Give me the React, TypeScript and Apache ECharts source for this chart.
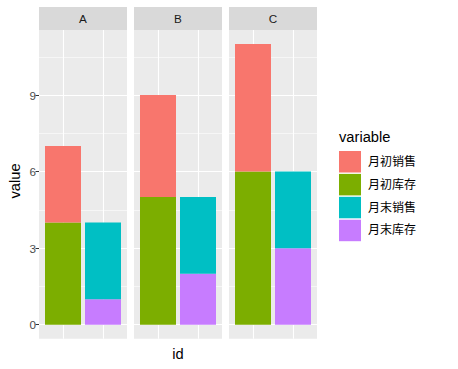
import React, { useEffect, useRef } from "react";
import * as echarts from "echarts";

const facets = ["A", "B", "C"];
const xPositions = [1, 2];
const begSales = [3, 4, 5];   // 月初销售
const begStock = [4, 5, 6];   // 月初库存
const endSales = [3, 3, 3];   // 月末销售
const endStock = [1, 2, 3];   // 月末库存
const variableNames = ["月初销售", "月初库存", "月末销售", "月末库存"];
const colors = ["#F8766D", "#7CAE00", "#00BFC4", "#C77CFF"];
const yTicks = [0, 3, 6, 9];
const yMinor = [1.5, 4.5, 7.5, 10.5];

const FONT = "'Liberation Sans', Arial, 'Noto Sans CJK SC', sans-serif";

export default function App() {
  const ref = useRef<HTMLDivElement>(null);
  useEffect(() => {
    if (!ref.current) return;
    const chart = echarts.init(ref.current, null, { renderer: "svg" });
    const panelLeft = [39, 134, 229];
    const panelW = 88;
    const top = 30;
    const height = 308.7;
    const grids: any[] = [];
    const xAxes: any[] = [];
    const yAxes: any[] = [];
    const series: any[] = [];
    const graphics: any[] = [];
    facets.forEach((f, i) => {
      grids.push({
        left: panelLeft[i], top, width: panelW, height,
        show: true, backgroundColor: "#EBEBEB", borderWidth: 0,
        outerBoundsMode: "none", containLabel: false,
      });
      xAxes.push({
        type: "value", gridIndex: i, min: 0.4, max: 2.6, splitNumber: 2,
        axisLine: { show: false },
        axisTick: { show: false, customValues: xPositions },
        axisLabel: { show: false, customValues: xPositions },
        splitLine: { show: true, lineStyle: { color: "#FFFFFF", width: 1.1 } },
      });
      yAxes.push({
        type: "value", gridIndex: i, min: -0.55, max: 11.55,
        axisLine: { show: false },
        axisTick: { show: i === 0, length: 3.5, lineStyle: { color: "#333333", width: 1 }, customValues: yTicks },
        axisLabel: { show: i === 0, margin: 3, color: "#4D4D4D", fontSize: 11.7, fontFamily: FONT, customValues: yTicks },
        splitLine: { show: true, lineStyle: { color: "#FFFFFF", width: 1.1 } },
      });
      yAxes.push({
        type: "value", gridIndex: i, min: -0.55, max: 11.55, position: "left",
        axisLine: { show: false },
        axisTick: { show: false, customValues: yMinor },
        axisLabel: { show: false, customValues: yMinor },
        splitLine: { show: true, lineStyle: { color: "#FFFFFF", width: 0.55 } },
      });
      // data rows are [value, x] so that the value dimension comes first and is the stacked one
      const mk = (name: string, color: string, vals: number[]) => ({
        type: "bar", name, xAxisIndex: i, yAxisIndex: i * 2, stack: "s" + i,
        barWidth: 36, itemStyle: { color }, z: 3,
        encode: { x: 1, y: 0 },
        data: vals.map((v, k) => [v, xPositions[k]]),
      });
      series.push(mk(variableNames[1], colors[1], [begStock[i], 0]));
      series.push(mk(variableNames[0], colors[0], [begSales[i], 0]));
      series.push(mk(variableNames[3], colors[3], [0, endStock[i]]));
      series.push(mk(variableNames[2], colors[2], [0, endSales[i]]));
      graphics.push({
        type: "rect", shape: { x: panelLeft[i], y: 7, width: panelW, height: 23 },
        style: { fill: "#D9D9D9" }, silent: true,
      });
      graphics.push({
        type: "text", x: panelLeft[i] + panelW / 2, y: 18.5,
        style: { text: f, fill: "#1A1A1A", fontSize: 11.7, fontFamily: FONT, align: "center", verticalAlign: "middle" },
      });
    });
    graphics.push({
      type: "text", x: 15, y: 181, rotation: Math.PI / 2,
      style: { text: "value", fill: "#000000", fontSize: 14.7, fontFamily: FONT, align: "center", verticalAlign: "middle" },
    });
    graphics.push({
      type: "text", x: 178, y: 354,
      style: { text: "id", fill: "#000000", fontSize: 14.7, fontFamily: FONT, align: "center", verticalAlign: "middle" },
    });
    graphics.push({
      type: "text", x: 339, y: 137,
      style: { text: "variable", fill: "#000000", fontSize: 14.7, fontFamily: FONT, align: "left", verticalAlign: "middle" },
    });
    chart.setOption({
      animation: false,
      grid: grids,
      xAxis: xAxes,
      yAxis: yAxes,
      series,
      legend: {
        data: variableNames.map((n, k) => ({ name: n, itemStyle: { color: colors[k] } })),
        orient: "vertical", left: 339, top: 151,
        icon: "rect", itemWidth: 22, itemHeight: 21.5, itemGap: 1.4,
        textStyle: { fontSize: 12, color: "#000000", fontFamily: FONT, padding: [0, 0, 0, 2] },
        padding: 0, selectedMode: false,
      },
      graphic: graphics,
    });
    return () => chart.dispose();
  }, []);
  return <div ref={ref} style={{ position: "absolute", left: 0, top: 0, width: 458, height: 369, background: "#fff" }} />;
}
